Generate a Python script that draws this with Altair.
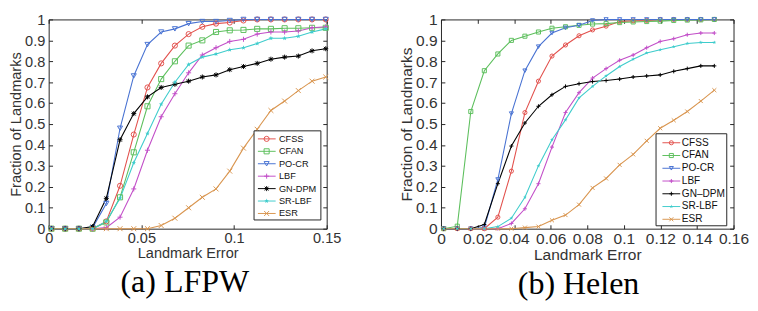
import altair as alt
import pandas as pd

# ---------------- data ----------------
methods = ["CFSS", "CFAN", "PO-CR", "LBF", "GN-DPM", "SR-LBF", "ESR"]
colors = ["#e2504c", "#5cbf5c", "#4872d2", "#c24ec8", "#000000", "#3ecccc", "#d9954f"]

x_err = [0.0015, 0.0089, 0.0163, 0.0237, 0.0311, 0.0385, 0.0459, 0.0533, 0.0607,
         0.0681, 0.0755, 0.0829, 0.0903, 0.0977, 0.1051, 0.1125, 0.1199, 0.1273,
         0.1347, 0.1421, 0.1495]

lfpw_cfss = [0, 0, 0, 0, 0.035, 0.205, 0.45, 0.675, 0.79, 0.875, 0.93, 0.965, 0.98, 0.985, 0.995, 1, 1, 1, 1, 1, 1]
lfpw_cfan = [0, 0, 0, 0, 0.03, 0.15, 0.365, 0.585, 0.715, 0.8, 0.875, 0.9, 0.94, 0.948, 0.95, 0.955, 0.955, 0.958, 0.958, 0.96, 0.96]
lfpw_pocr = [0, 0, 0, 0.005, 0.12, 0.48, 0.73, 0.88, 0.94, 0.955, 0.98, 0.99, 0.99, 0.995, 1, 1, 1, 1, 1, 1, 1]
lfpw_lbf = [0, 0, 0, 0, 0.005, 0.055, 0.19, 0.375, 0.535, 0.645, 0.745, 0.83, 0.865, 0.895, 0.905, 0.93, 0.94, 0.94, 0.945, 0.96, 0.965]
lfpw_gndpm = [0, 0, 0, 0.01, 0.145, 0.425, 0.55, 0.63, 0.675, 0.69, 0.705, 0.725, 0.735, 0.76, 0.775, 0.79, 0.81, 0.82, 0.825, 0.85, 0.86]
lfpw_srlbf = [0, 0, 0, 0, 0.035, 0.145, 0.315, 0.455, 0.595, 0.7, 0.785, 0.82, 0.835, 0.855, 0.865, 0.885, 0.91, 0.91, 0.92, 0.94, 0.955]
lfpw_esr = [0, 0, 0, 0, 0, 0, 0, 0, 0.015, 0.05, 0.1, 0.15, 0.19, 0.275, 0.385, 0.475, 0.565, 0.61, 0.66, 0.705, 0.725]

helen_cfss = [0, 0, 0, 0, 0.055, 0.275, 0.555, 0.705, 0.825, 0.878, 0.922, 0.95, 0.968, 0.99, 0.993, 0.995, 1, 1, 1, 1, 1]
helen_cfan = [0, 0.012, 0.56, 0.755, 0.835, 0.9, 0.92, 0.94, 0.958, 0.965, 0.972, 0.978, 0.98, 0.985, 0.988, 0.99, 0.992, 0.995, 0.997, 0.998, 1]
helen_pocr = [0, 0, 0, 0.005, 0.235, 0.55, 0.755, 0.87, 0.935, 0.96, 0.972, 0.995, 1, 1, 1, 1, 1, 1, 1, 1, 1]
helen_lbf = [0, 0, 0, 0, 0, 0.025, 0.095, 0.215, 0.39, 0.555, 0.65, 0.72, 0.765, 0.805, 0.83, 0.865, 0.895, 0.908, 0.927, 0.935, 0.935]
helen_gndpm = [0, 0, 0, 0.02, 0.215, 0.395, 0.505, 0.585, 0.64, 0.68, 0.693, 0.703, 0.708, 0.715, 0.725, 0.73, 0.735, 0.752, 0.765, 0.778, 0.778]
helen_srlbf = [0, 0, 0, 0, 0.01, 0.05, 0.15, 0.3, 0.425, 0.52, 0.625, 0.68, 0.73, 0.775, 0.81, 0.84, 0.855, 0.87, 0.885, 0.89, 0.89]
helen_esr = [0, 0, 0, 0, 0, 0, 0.005, 0.01, 0.04, 0.065, 0.115, 0.195, 0.24, 0.305, 0.355, 0.42, 0.48, 0.518, 0.56, 0.61, 0.662]

lfpw_series = [lfpw_cfss, lfpw_cfan, lfpw_pocr, lfpw_lbf, lfpw_gndpm, lfpw_srlbf, lfpw_esr]
helen_series = [helen_cfss, helen_cfan, helen_pocr, helen_lbf, helen_gndpm, helen_srlbf, helen_esr]

lfpw_labels = ["CFSS", "CFAN", "PO-CR", "LBF", "GN-DPM", "SR-LBF", "ESR"]
helen_labels = ["CFSS", "CFAN", "PO-CR", "LBF", "GN\u2013DPM", "SR-LBF", "ESR"]

lfpw_xticks = [0, 0.05, 0.1, 0.15]
helen_xticks = [0, 0.02, 0.04, 0.06, 0.08, 0.1, 0.12, 0.14, 0.16]
yticks = [0, 0.1, 0.2, 0.3, 0.4, 0.5, 0.6, 0.7, 0.8, 0.9, 1]

# ---------------- marker shapes ----------------
PLUS = "M-1,0L1,0M0,-1L0,1"
XMARK = "M-1,-1L1,1M-1,1L1,-1"
ASTER = "M-1,0L1,0M0,-1L0,1M-0.75,-0.75L0.75,0.75M-0.75,0.75L0.75,-0.75"
STAR = ("M0,-1L0.235,-0.324L0.951,-0.309L0.38,0.124L0.588,0.809L0,0.4"
        "L-0.588,0.809L-0.38,0.124L-0.951,-0.309L-0.235,-0.324Z")

lfpw_shapes = ["circle", "square", "triangle-down", PLUS, ASTER, STAR, XMARK]
helen_shapes = ["circle", "square", "triangle-down", PLUS, PLUS, STAR, XMARK]
lfpw_sizes = [28, 26, 34, 64, 44, 64, 34]
helen_sizes = [18, 17, 24, 40, 36, 50, 26]

FRAME = "#222222"
TXT = "#333333"


def make_panel(series, labels, shapes, sizes, W, H, xmax, xticks, fs, caption,
               cap_dx, leg_fs, box, entry_pad, line_off):
    rows = []
    for m, vals in zip(methods, series):
        for xv, yv in zip(x_err, vals):
            rows.append({"method": m, "err": xv, "frac": yv})
    df = pd.DataFrame(rows)

    color = alt.Color("method:N", scale=alt.Scale(domain=methods, range=colors), legend=None)
    shape = alt.Shape("method:N", scale=alt.Scale(domain=methods, range=shapes), legend=None)
    size = alt.Size("method:N", scale=alt.Scale(domain=methods, range=sizes), legend=None)

    x = alt.X("err:Q",
              scale=alt.Scale(domain=[0, xmax], nice=False, zero=False),
              axis=alt.Axis(values=xticks, labelExpr="format(datum.value, '~g')",
                            title="Landmark Error", labelPadding=2,
                            labelFontSize=fs, titleFontSize=fs,
                            grid=True, gridDash=[4, H - 8, 4]))
    y = alt.Y("frac:Q",
              scale=alt.Scale(domain=[0, 1], nice=False),
              axis=alt.Axis(values=yticks, labelExpr="format(datum.value, '~g')",
                            title="Fraction of Landmarks", labelPadding=4,
                            labelFontSize=fs, titleFontSize=fs,
                            grid=True, gridDash=[4, W - 8, 4]))

    base = alt.Chart(df)
    lines = base.mark_line(strokeWidth=1.1).encode(x=x, y=y, color=color, order="err:Q")
    pts_open = base.transform_filter(alt.datum.method != "SR-LBF").mark_point(
        filled=False, strokeWidth=1, opacity=1).encode(x=x, y=y, color=color, shape=shape, size=size)
    pts_star = base.transform_filter(alt.datum.method == "SR-LBF").mark_point(
        filled=True, opacity=1).encode(x=x, y=y, color=color, shape=shape, size=size)
    data_layer = alt.layer(lines, pts_open, pts_star)

    # ---- legend (box in pixel units inside plot) ----
    bx1, bx2, by1, by2 = box
    top_pad, bot_pad = entry_pad
    l1, l2, mk, tx = line_off
    ldf = pd.DataFrame({"method": methods, "label": labels})
    ly = alt.Y("method:N",
               scale=alt.Scale(type="point", domain=methods,
                               range=[by1 + top_pad, by2 - bot_pad], padding=0),
               axis=None)
    lbox = alt.Chart(pd.DataFrame({"b": [1]})).mark_rect(
        fill="white", stroke=FRAME, strokeWidth=1).encode(
        x=alt.value(bx1), x2=alt.value(bx2), y=alt.value(by1), y2=alt.value(by2))
    lrule = alt.Chart(ldf).mark_rule(strokeWidth=1).encode(
        x=alt.value(bx1 + l1), x2=alt.value(bx1 + l2), y=ly, color=color)
    lpts_open = alt.Chart(ldf).transform_filter(alt.datum.method != "SR-LBF").mark_point(
        filled=False, strokeWidth=1, opacity=1).encode(
        x=alt.value(bx1 + mk), y=ly, color=color, shape=shape, size=size)
    lpts_star = alt.Chart(ldf).transform_filter(alt.datum.method == "SR-LBF").mark_point(
        filled=True, opacity=1).encode(
        x=alt.value(bx1 + mk), y=ly, color=color, shape=shape, size=size)
    ltext = alt.Chart(ldf).mark_text(
        align="left", baseline="middle", fontSize=leg_fs, font="Liberation Sans",
        color="#111111").encode(x=alt.value(bx1 + tx), y=ly, text="label:N")
    legend_layer = alt.layer(lbox, lrule, lpts_open, lpts_star, ltext)

    return alt.layer(data_layer, legend_layer).resolve_scale(y="independent").properties(
        width=W, height=H,
        title=alt.TitleParams(caption, orient="bottom", anchor="middle", frame="group",
                              font="Liberation Serif", fontSize=33, fontWeight="normal",
                              color="black", offset=6, dx=cap_dx))


W1, W2, H = 287, 302, 216

p1 = make_panel(lfpw_series, lfpw_labels, lfpw_shapes, lfpw_sizes, W1, H, 0.15,
                lfpw_xticks, 15, "(a) LFPW", -3, 9.5,
                (W1 - 6 - 69, W1 - 6, H - 9 - 92, H - 9), (8.3, 6.7), (4, 22.3, 13, 25.7))
p2 = make_panel(helen_series, helen_labels, helen_shapes, helen_sizes, W2, H, 0.16,
                helen_xticks, 16, "(b) Helen", -9, 10.4,
                (W2 - 7 - 73, W2 - 7, H - 3 - 95, H - 3), (9.3, 6.7), (6.6, 25, 15.8, 26.6))

chart = alt.hconcat(p1, p2, spacing=58).resolve_scale(
    x="independent", y="independent", color="independent",
    shape="independent", size="independent"
).properties(
    padding={"left": 0, "top": -2, "right": 0, "bottom": 0}
).configure(font="Liberation Sans").configure_view(
    stroke=FRAME, strokeWidth=1
).configure_axis(
    labelFont="Liberation Sans", titleFont="Liberation Sans",
    labelColor=TXT, titleColor=TXT, titleFontWeight="normal",
    domain=False, ticks=False, gridColor=FRAME, gridOpacity=1, gridWidth=1,
    labelPadding=1, titlePadding=1, labelFlush=False, labelOverlap=False
)

chart.save("out.html", embed_options={"renderer": "svg", "actions": False})
